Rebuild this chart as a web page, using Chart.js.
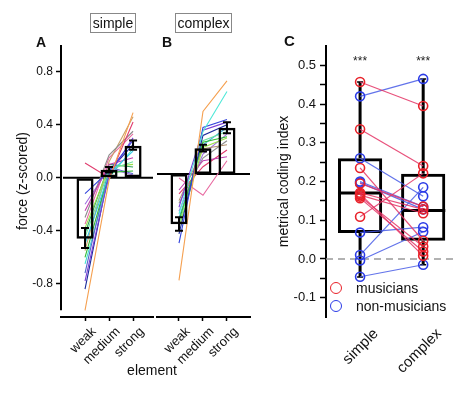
<!DOCTYPE html>
<html><head><meta charset="utf-8">
<script src="https://cdn.jsdelivr.net/npm/chart.js@4"></script>
<style>
body{margin:0;background:#fff;width:474px;height:395px;overflow:hidden;position:relative;font-family:Arial,"Liberation Sans",sans-serif;color:#111}
canvas{position:absolute;left:0;top:0}
.t{position:absolute;white-space:nowrap;line-height:1}
.box{position:absolute;border:1px solid #888;box-sizing:border-box;text-align:center;font-size:14px;line-height:18px}
.circ{position:absolute;width:12px;height:12px;border-radius:50%;box-sizing:border-box;border:1.6px solid}
</style></head><body>
<canvas id="ca" width="474" height="395"></canvas>
<canvas id="cb" width="474" height="395"></canvas>
<canvas id="cc" width="474" height="395"></canvas>
<div class="box" style="left:90px;top:13px;width:46px;height:20px">simple</div>
<div class="box" style="left:175px;top:13px;width:57px;height:20px">complex</div>
<div class="t" style="left:36px;top:35px;font-weight:bold;font-size:14px">A</div>
<div class="t" style="left:162px;top:35px;font-weight:bold;font-size:14px">B</div>
<div class="t" style="left:284px;top:33px;font-weight:bold;font-size:15px">C</div>
<div class="t" style="left:152px;top:363px;font-size:14px;transform:translateX(-50%)">element</div>
<div class="circ" style="left:330px;top:282px;border-color:#e8222a"></div>
<div class="t" style="left:356px;top:281px;font-size:14px">musicians</div>
<div class="circ" style="left:330px;top:300px;border-color:#2b3be6"></div>
<div class="t" style="left:356px;top:299px;font-size:14px">non-musicians</div>
<script>
// ---------- data ----------
const elements = ['weak', 'medium', 'strong'];
const elementPos = [1, 2, 3];
const forceTicks = [-0.8, -0.4, 0, 0.4, 0.8];

const simpleMean = [-0.46, 0.06, 0.24];
const simpleErrLow = [-0.53, 0.04, 0.21];
const simpleErrHigh = [-0.38, 0.08, 0.28];

const complexMean = [-0.378, 0.193, 0.348];
const complexErrLow = [-0.426, 0.17, 0.306];
const complexErrHigh = [-0.325, 0.22, 0.389];

// individual subjects: [weak, medium, strong]
const simpleSubjects = [
  [-1.00, -0.02, 0.49],
  [ 0.11,  0.00, 0.42],
  [-0.12,  0.05, 0.28],
  [-0.78,  0.02, 0.30],
  [-0.50,  0.03, 0.20],
  [-0.45,  0.06, 0.12],
  [-0.38,  0.08, 0.10],
  [-0.60,  0.04, 0.05],
  [-0.25,  0.10, 0.15],
  [-0.30,  0.17, 0.35],
  [-0.55,  0.12, 0.46],
  [-0.72,  0.08, 0.03],
  [-0.65,  0.00, 0.22],
  [-0.84,  0.05, 0.25],
  [-0.20,  0.07, 0.02],
  [-0.35,  0.15, 0.33],
  [-0.42,  0.10, 0.08]
];
const complexSubjects = [
  [-0.80,  0.47, 0.70],
  [-0.30,  0.32, 0.62],
  [-0.52,  0.35, 0.41],
  [-0.25,  0.33, 0.39],
  [-0.45,  0.29, 0.37],
  [-0.35,  0.24, 0.28],
  [-0.40,  0.20, 0.27],
  [-0.20,  0.19, 0.22],
  [-0.12,  0.10, 0.13],
  [-0.15,  0.055, 0.18],
  [-0.03, -0.16, 0.10],
  [-0.38,  0.25, 0.32],
  [-0.28,  0.15, 0.30],
  [-0.33,  0.22, 0.35],
  [-0.22,  0.12, 0.25]
];

const conditions = ['simple', 'complex'];
const conditionPos = [1, 2];
const musiciansSimple  = [0.457, 0.335, 0.235, 0.195, 0.171, 0.165, 0.161, 0.157, 0.109, 0.168];
const musiciansComplex = [0.395, 0.240, 0.047, 0.135, 0.128, 0.118, 0.032, 0.019, 0.221, 0.008];
const nonMusiciansSimple  = [0.420, 0.260, 0.200, 0.197, 0.068, 0.010, -0.004, -0.046];
const nonMusiciansComplex = [0.465, 0.162, 0.135, 0.128, 0.082, 0.185, 0.070, -0.015];
const boxQ1 = [0.067, 0.047];
const boxMedian = [0.170, 0.125];
const boxQ3 = [0.260, 0.220];
const whiskerLow = [-0.047, -0.015];
const whiskerHigh = [0.457, 0.465];
const indexTicks = [-0.1, -0.05, 0, 0.05, 0.1, 0.15, 0.2, 0.25, 0.3, 0.35, 0.4, 0.45, 0.5];
const significance = ['***', '***'];
const starLevel = 0.51;

// ---------- styles ----------
const FONT = 'Arial, "Liberation Sans", sans-serif';
Chart.defaults.font.family = FONT;
Chart.defaults.color = '#111';
const paletteA = ['#f5a050','#e03c6e','#3344dd','#7b3fd6','#33c7e6','#6fe0a0','#9ae04a','#33bb33','#c040b0','#8c8c8c','#c8a06a','#5566cc','#40e0d0','#1a2a9a','#a070e0','#e86aa0','#2e9e5e'];
const paletteB = ['#f5a050','#50e8d8','#3344dd','#7b3fd6','#1a2a9a','#33bb33','#9ae04a','#b09070','#c040b0','#e03c6e','#e86aa0','#6fe0a0','#a070e0','#40b0e0','#8c8c8c'];

const extras = {
  id: 'extras',
  beforeDatasetsDraw(chart, args, o) {
    const ctx = chart.ctx, ys = chart.scales.y, xs = chart.scales.x, ca = chart.chartArea;
    ctx.save();
    if (o.axisY) {
      ctx.strokeStyle = '#000'; ctx.lineWidth = 2; ctx.beginPath();
      ctx.moveTo(ca.left, ys.getPixelForValue(o.axisY[0]));
      ctx.lineTo(ca.left, ys.getPixelForValue(o.axisY[1]));
      ctx.stroke();
    }
    if (o.zero) {
      ctx.strokeStyle = o.zero.color; ctx.lineWidth = o.zero.width; ctx.setLineDash(o.zero.dash || []);
      const y0 = ys.getPixelForValue(0);
      ctx.beginPath(); ctx.moveTo(ca.left + (o.zero.inset || 0), y0); ctx.lineTo(ca.right, y0); ctx.stroke();
      ctx.setLineDash([]);
    }
    if (o.box) {
      const b = o.box;
      ctx.strokeStyle = '#000'; ctx.lineWidth = 3;
      b.x.forEach((xv, i) => {
        const px = xs.getPixelForValue(xv);
        ctx.beginPath();
        ctx.moveTo(px, ys.getPixelForValue(b.lo[i])); ctx.lineTo(px, ys.getPixelForValue(b.q1[i]));
        ctx.moveTo(px, ys.getPixelForValue(b.q3[i])); ctx.lineTo(px, ys.getPixelForValue(b.hi[i]));
        ctx.stroke();
        ctx.lineWidth = 1.5; ctx.beginPath();
        ctx.moveTo(px - 3, ys.getPixelForValue(b.lo[i])); ctx.lineTo(px + 3, ys.getPixelForValue(b.lo[i]));
        ctx.moveTo(px - 3, ys.getPixelForValue(b.hi[i])); ctx.lineTo(px + 3, ys.getPixelForValue(b.hi[i]));
        ctx.stroke();
        ctx.lineWidth = 3;
        const half = b.halfWidth * (xs.getPixelForValue(2) - xs.getPixelForValue(1));
        ctx.beginPath();
        ctx.moveTo(px - half, ys.getPixelForValue(b.med[i])); ctx.lineTo(px + half, ys.getPixelForValue(b.med[i]));
        ctx.stroke();
      });
    }
    ctx.restore();
  },
  afterDatasetsDraw(chart, args, o) {
    const ctx = chart.ctx, ys = chart.scales.y, xs = chart.scales.x;
    ctx.save();
    if (o.err) {
      ctx.strokeStyle = '#000'; ctx.lineWidth = 2;
      o.err.x.forEach((xv, i) => {
        const px = xs.getPixelForValue(xv), a = ys.getPixelForValue(o.err.lo[i]), b = ys.getPixelForValue(o.err.hi[i]);
        ctx.beginPath();
        ctx.moveTo(px, a); ctx.lineTo(px, b);
        ctx.moveTo(px - 4, a); ctx.lineTo(px + 4, a);
        ctx.moveTo(px - 4, b); ctx.lineTo(px + 4, b);
        ctx.stroke();
      });
    }
    if (o.stars) {
      ctx.fillStyle = '#222'; ctx.font = '12px ' + FONT; ctx.textAlign = 'center'; ctx.textBaseline = 'middle';
      o.stars.x.forEach((xv, i) => ctx.fillText(o.stars.text[i], xs.getPixelForValue(xv), ys.getPixelForValue(o.stars.y)));
    }
    ctx.restore();
  }
};

function barPanel(id, means, lo, hi, subjects, palette, pad, xr, yr, showY) {
  const datasets = [{
    type: 'bar',
    data: elementPos.map((x, i) => ({ x, y: means[i] })),
    backgroundColor: 'rgba(0,0,0,0)', borderColor: '#000', borderWidth: 2.5, borderSkipped: false,
    barPercentage: 0.71, categoryPercentage: 1, order: 0
  }].concat(subjects.map((s, k) => ({
    type: 'line',
    data: s.map((v, i) => ({ x: elementPos[i], y: v })),
    borderColor: palette[k % palette.length], borderWidth: 1.1, pointRadius: 0, fill: false, tension: 0, order: 1
  })));
  return new Chart(document.getElementById(id), {
    type: 'line',
    data: { datasets },
    options: {
      responsive: false, animation: false, events: [],
      layout: { padding: pad },
      plugins: {
        legend: { display: false }, tooltip: { enabled: false },
        extras: {
          axisY: showY ? [1, -1] : null,
          zero: { color: '#000', width: 2, inset: showY ? 2 : 0 },
          err: { x: elementPos, lo, hi }
        }
      },
      scales: {
        x: {
          type: 'linear', min: xr[0], max: xr[1], offset: false,
          afterBuildTicks: s => { s.ticks = elementPos.map(v => ({ value: v })); },
          afterFit: s => { s.height = 78; },
          grid: { offset: false, drawOnChartArea: false, drawTicks: true, tickLength: 4, tickColor: '#000', tickWidth: 1.5 },
          border: { display: true, color: '#000', width: 2 },
          ticks: { autoSkip: false, minRotation: 45, maxRotation: 45, labelOffset: 9, padding: 3,
                   font: { size: 13 }, callback: v => elements[elementPos.indexOf(v)] }
        },
        y: {
          type: 'linear', min: yr[0], max: yr[1], display: showY,
          afterBuildTicks: s => { s.ticks = forceTicks.map(v => ({ value: v })); },
          afterFit: s => { s.width = showY ? 61 : 0; },
          grid: { drawOnChartArea: false, tickLength: 5, tickColor: '#000', tickWidth: 1.5 },
          border: { display: false },
          ticks: { padding: 3, font: { size: 12 }, callback: v => v.toFixed(1) },
          title: { display: true, text: 'force (z-scored)', font: { size: 14 }, padding: { top: 15, bottom: 0 } }
        }
      }
    },
    plugins: [extras]
  });
}

barPanel('ca', simpleMean, simpleErrLow, simpleErrHigh, simpleSubjects, paletteA,
  { left: 0, right: 321, top: 45, bottom: 0 }, [0, 3.83], [-1.05, 1.0], true);
barPanel('cb', complexMean, complexErrLow, complexErrHigh, complexSubjects, paletteB,
  { left: 157, right: 224, top: 45, bottom: 0 }, [0.083, 3.96], [-1.075, 0.97], false);

// ---------- panel C ----------
const pairDs = (sArr, cArr, line, pt) => sArr.map((s, k) => ({
  type: 'line',
  data: [{ x: conditionPos[0], y: s }, { x: conditionPos[1], y: cArr[k] }],
  borderColor: line, borderWidth: 1.2, pointRadius: 4.5, pointBorderColor: pt,
  pointBackgroundColor: 'rgba(0,0,0,0)', pointBorderWidth: 1.6, fill: false, order: 0
}));
new Chart(document.getElementById('cc'), {
  type: 'line',
  data: {
    datasets: [{
      type: 'bar',
      data: conditionPos.map((x, i) => ({ x, y: [boxQ1[i], boxQ3[i]] })),
      backgroundColor: 'rgba(0,0,0,0)', borderColor: '#000', borderWidth: 3, borderSkipped: false,
      barPercentage: 0.7, categoryPercentage: 1, order: 10
    }].concat(pairDs(musiciansSimple, musiciansComplex, 'rgba(228,50,100,0.85)', '#e8222a'))
      .concat(pairDs(nonMusiciansSimple, nonMusiciansComplex, 'rgba(70,90,230,0.85)', '#2b3be6'))
  },
  options: {
    responsive: false, animation: false, events: [],
    layout: { padding: { left: 260, right: 18, top: 46, bottom: 0 } },
    plugins: {
      legend: { display: false }, tooltip: { enabled: false },
      extras: {
        zero: { color: '#999', width: 1.5, dash: [7, 5] },
        box: { x: conditionPos, lo: whiskerLow, q1: boxQ1, med: boxMedian, q3: boxQ3, hi: whiskerHigh, halfWidth: 0.35 },
        stars: { x: conditionPos, y: starLevel, text: significance }
      }
    },
    scales: {
      x: {
        type: 'linear', min: 0.46, max: 2.52, offset: false,
        afterBuildTicks: s => { s.ticks = conditionPos.map(v => ({ value: v })); },
        afterFit: s => { s.height = 78; },
        grid: { display: false, offset: false }, border: { display: false },
        ticks: { autoSkip: false, minRotation: 45, maxRotation: 45, labelOffset: 16, padding: 0,
                 font: { size: 15 }, callback: v => conditions[conditionPos.indexOf(v)] }
      },
      y: {
        type: 'linear', min: -0.15, max: 0.55,
        afterBuildTicks: s => { s.ticks = indexTicks.map(v => ({ value: v })); },
        afterFit: s => { s.width = 66; },
        grid: { drawOnChartArea: false, tickLength: 6, tickColor: '#000', tickWidth: 1.5 },
        border: { display: true, color: '#000', width: 2 },
        ticks: { padding: 4, font: { size: 13 },
                 callback: v => Math.abs(Math.round(v * 10) - v * 10) < 1e-6 ? v.toFixed(1) : '' },
        title: { display: true, text: 'metrical coding index', font: { size: 14 }, padding: { top: 16, bottom: 0 } }
      }
    }
  },
  plugins: [extras]
});
</script>
</body></html>
